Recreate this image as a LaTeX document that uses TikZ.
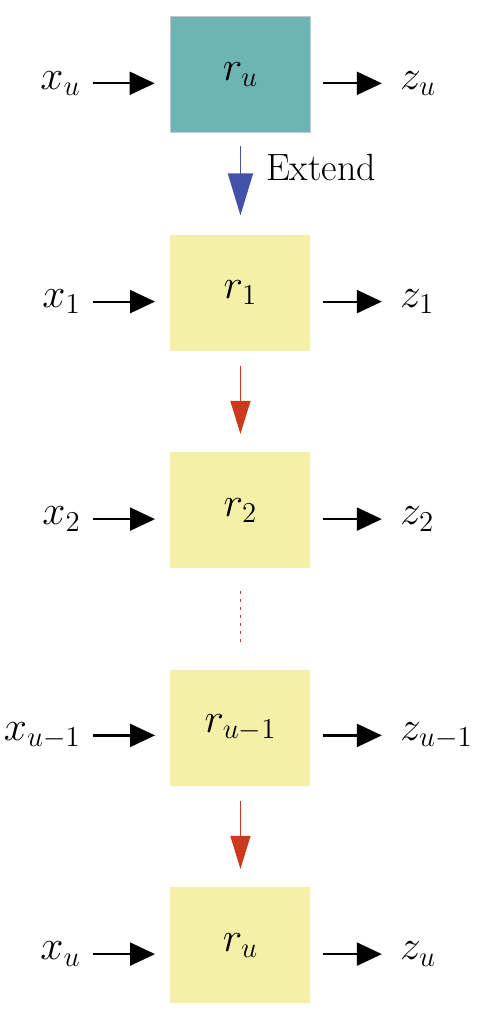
\documentclass[tikz,border=0pt]{standalone}
\usepackage{amsmath}
\usetikzlibrary{matrix, arrows.meta}
\definecolor{tealbox}{HTML}{6DB4B4}
\definecolor{yellowbox}{HTML}{F4F0A8}
\definecolor{boxgray}{HTML}{C8C8C8}
\definecolor{extendblue}{HTML}{4351A6}
\definecolor{chainred}{HTML}{CC3A1E}
\begin{document}
\begin{tikzpicture} [font = \fontsize{21}{25}\selectfont,
  rbox/.style = {minimum width = 70pt, minimum height = 58pt, inner sep = 0pt, fill = yellowbox},
  xlab/.style = {anchor = east, inner sep = 2pt, yshift = -1.5pt},
  zlab/.style = {anchor = west, inner sep = 2pt, yshift = -1.5pt},
  flow/.style = {line width = 1.1pt, -{Triangle[length = 12.5pt, width = 11.5pt]}},
  chain/.style = {chainred, line width = 0.7pt, -{Triangle[length = 16.5pt, width = 10pt]},
    shorten < = 7.5pt, shorten > = 9pt}]
\matrix (m) [matrix of nodes, column sep = 42.5pt, row sep = 50.75pt, inner sep = 0pt]{
\node[xlab](x0){$x_u$}; & \node[rbox, fill = tealbox, draw = boxgray, line width = 0.8pt](r0){$r_u$}; & \node[zlab](z0){$z_u$}; \\
\node[xlab](x1){$x_1$}; & \node[rbox](r1){$r_1$}; & \node[zlab](z1){$z_1$}; \\
\node[xlab](x2){$x_2$}; & \node[rbox](r2){$r_2$}; & \node[zlab](z2){$z_2$}; \\
\node[xlab](xm){$x_{u-1}$}; & \node[rbox](rm){$r_{u-1}$}; & \node[zlab](zm){$z_{u-1}$}; \\
\node[xlab](xn){$x_u$}; & \node[rbox](rn){$r_u$}; & \node[zlab](zn){$z_u$}; \\
};
\foreach \i in {0, 1, 2, m, n} {
  \draw [flow, shorten < = 4pt, shorten > = 7.5pt] (x\i.east) -- (x\i.east -| r\i.west);
  \draw [flow, shorten < = 6pt, shorten > = 7pt] (r\i.east |- z\i.west) -- (z\i.west);
}
\draw [extendblue, line width = 0.9pt, -{Triangle[length = 21pt, width = 12.5pt]},
  shorten < = 6.5pt, shorten > = 9.5pt] (r0) -- node[right = 9pt, pos = .34, black, font = \fontsize{19}{22}\selectfont]{Extend} (r1);
\draw [chain] (r1) -- (r2);
\draw [chain] (rm) -- (rn);
\draw [chainred, line width = 0.9pt, dash pattern = on 1.6pt off 2.4pt, shorten < = 11pt, shorten > = 11.5pt] (r2) -- (rm);
\path (r0.center) +(-120pt, 37.25pt) rectangle +(117pt, -472.75pt);
\end{tikzpicture}
\end{document}
